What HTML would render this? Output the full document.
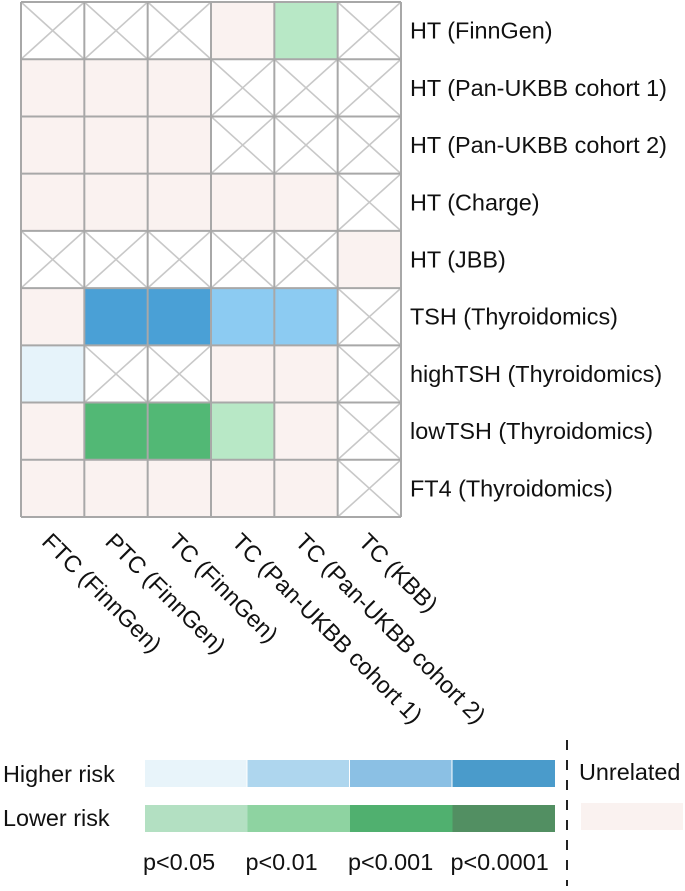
<!DOCTYPE html>
<html><head><meta charset="utf-8"><style>
html,body{margin:0;padding:0;background:#fff;}
svg text{font-family:"Liberation Sans",sans-serif;fill:#111;}
</style></head><body>
<svg id="chart" width="685" height="886" xmlns="http://www.w3.org/2000/svg">
<g id="cells"></g>
<g id="rowlabels"></g>
<g id="collabels"></g>
<g id="legend"></g>
</svg>
<script>
const rows = ["HT (FinnGen)","HT (Pan-UKBB cohort 1)","HT (Pan-UKBB cohort 2)","HT (Charge)","HT (JBB)","TSH (Thyroidomics)","highTSH (Thyroidomics)","lowTSH (Thyroidomics)","FT4 (Thyroidomics)"];
const cols = ["FTC (FinnGen)","PTC (FinnGen)","TC (FinnGen)","TC (Pan-UKBB cohort 1)","TC (Pan-UKBB cohort 2)","TC (KBB)"];
// codes: x = not available, u = unrelated, h1..h4 higher risk level, l1..l4 lower risk level
const cellValues = [
 ["x","x","x","u","l1","x"],
 ["u","u","u","x","x","x"],
 ["u","u","u","x","x","x"],
 ["u","u","u","u","u","x"],
 ["x","x","x","x","x","u"],
 ["u","h4","h4","h3","h3","x"],
 ["h1","x","x","u","u","x"],
 ["u","l3","l3","l1","u","x"],
 ["u","u","u","u","u","x"]
];
const pLabels = ["p<0.05","p<0.01","p<0.001","p<0.0001"];
const NS="http://www.w3.org/2000/svg";
const FS=23.4;
const colorMap={u:"#faf2f0",h1:"#e6f3fa",h2:"#aed6ee",h3:"#8ccbf2",h4:"#4aa0d6",l1:"#b8e8c6",l2:"#8ed3a1",l3:"#52b875",l4:"#528f62"};
const higherColors=["#e8f4fa","#aed6ee","#8bc0e4","#4a9bcb"];
const lowerColors=["#b3e0c2","#8ed3a1","#50b06f","#528f62"];
const gx0=21,gx1=401,gy0=2,gy1=517;
const cw=(gx1-gx0)/cols.length, rh=(gy1-gy0)/rows.length;
const xPos=i=>gx0+i*cw, yPos=j=>gy0+j*rh;
function el(tag,attrs,parent){const e=document.createElementNS(NS,tag);for(const k in attrs)e.setAttribute(k,attrs[k]);parent.appendChild(e);return e;}
const cells=document.getElementById('cells');
cellValues.forEach((row,j)=>row.forEach((v,i)=>{
  const x=xPos(i),y=yPos(j);
  const r=el('rect',{x:x,y:y,width:cw,height:rh,fill:v==='x'?'#fff':colorMap[v]},cells);
  
  
  if(v==='x'){
    const l1=el('line',{x1:x,y1:y,x2:x+cw,y2:y+rh,stroke:'#c8c8c8','stroke-width':1.6},cells);
    
    
    const l2=el('line',{x1:x+cw,y1:y,x2:x,y2:y+rh,stroke:'#c8c8c8','stroke-width':1.6},cells);
    
    
  }
}));
for(let i=0;i<=cols.length;i++){const l=el('line',{x1:xPos(i),y1:gy0,x2:xPos(i),y2:gy1,stroke:'#a8a8a8','stroke-width':2},cells);}
for(let j=0;j<=rows.length;j++){const l=el('line',{x1:gx0,y1:yPos(j),x2:gx1,y2:yPos(j),stroke:'#a8a8a8','stroke-width':2},cells);}
const rl=document.getElementById('rowlabels');
rows.forEach((t,j)=>{const e=el('text',{x:410,y:yPos(j)+rh/2+8,'font-size':FS},rl);e.textContent=t;});
const cl=document.getElementById('collabels');
cols.forEach((t,i)=>{const cx=xPos(i)+cw/2-12, cy=543;const e=el('text',{x:cx,y:cy,'font-size':FS,transform:`rotate(45 ${cx} ${cy})`},cl);e.textContent=t;});
const lg=document.getElementById('legend');
const bx0=145,bw=(555-145)/4;
higherColors.forEach((c,i)=>{const r=el('rect',{x:bx0+i*bw,y:760,width:bw-(i<3?1:0),height:27,fill:c},lg);});
lowerColors.forEach((c,i)=>{const r=el('rect',{x:bx0+i*bw,y:805,width:bw,height:27,fill:c},lg);});
pLabels.forEach((t,i)=>{const e=el('text',{x:bx0+i*bw-2,y:870,'font-size':FS},lg);e.textContent=t;});
let t1=el('text',{x:3,y:782,'font-size':FS},lg);t1.textContent='Higher risk';


let t2=el('text',{x:3,y:826,'font-size':FS},lg);t2.textContent='Lower risk';


let dl=el('line',{x1:567,y1:740,x2:567,y2:886,stroke:'#222','stroke-width':2,'stroke-dasharray':'10,10'},lg);


let t3=el('text',{x:579,y:780,'font-size':FS},lg);t3.textContent='Unrelated';


let ub=el('rect',{x:581,y:803,width:102,height:27,fill:'#faf2f0'},lg);


</script>
</body></html>
